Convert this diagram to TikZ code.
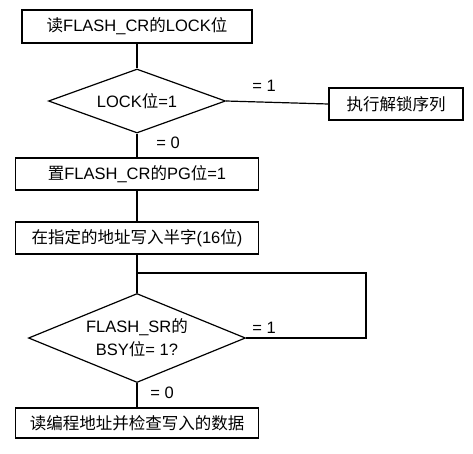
\documentclass[tikz,border=0pt]{standalone}
\usepackage{fontspec}
\setmainfont{Liberation Sans}
\newfontfamily\cjk{Noto Sans CJK SC}
\newcommand\zh[1]{{\cjk #1}}
\usetikzlibrary{shapes.geometric}
\begin{document}
\begin{tikzpicture}[x=1pt,y=-1pt,
  font=\fontsize{16.5}{23}\selectfont,
  line width=1.2pt,
  procbox/.style={draw, rectangle, inner sep=0pt},
  decbox/.style={draw, diamond, inner sep=0pt, align=center},
  lbl/.style={inner sep=0pt}]
\useasboundingbox (0,0) rectangle (473,453);
\node[procbox, minimum width=230pt, minimum height=33pt] (b1) at (137,26.5) {\zh{读}FLASH\_CR\zh{的}LOCK\zh{位}};
\node[decbox, minimum width=177pt, minimum height=64pt, aspect=2.77] (d1) at (137,101) {LOCK\zh{位}=1};
\node[procbox, minimum width=134pt, minimum height=32pt] (b2) at (396,104) {\zh{执行解锁序列}};
\node[procbox, minimum width=243pt, minimum height=32pt] (b3) at (137,174) {\zh{置}FLASH\_CR\zh{的}PG\zh{位}=1};
\node[procbox, minimum width=243pt, minimum height=32pt] (b4) at (137,238) {\zh{在指定的地址写入半字}(16\zh{位})};
\node[decbox, minimum width=217pt, minimum height=89pt, aspect=2.44] (d2) at (137,338) {FLASH\_SR\zh{的}\\BSY\zh{位}= 1?};
\node[procbox, minimum width=243pt, minimum height=30pt] (b5) at (137,423) {\zh{读编程地址并检查写入的数据}};
\coordinate (j) at (137,273);
\coordinate (r1) at (366,273);
\coordinate (r2) at (366,338);
\draw (b1.south) -- (d1.north);
\draw (d1.east) -- (b2.west);
\draw (d1.south) -- (b3.north);
\draw (b3.south) -- (b4.north);
\draw (b4.south) -- (d2.north);
\draw (j) -- (r1) -- (r2) -- (d2.east);
\draw (d2.south) -- (b5.north);
\node[lbl] (l1) at (264,86) {= 1};
\node[lbl] (l2) at (168,143) {= 0};
\node[lbl] (l3) at (264,328) {= 1};
\node[lbl] (l4) at (162,393) {= 0};
\end{tikzpicture}
\end{document}
